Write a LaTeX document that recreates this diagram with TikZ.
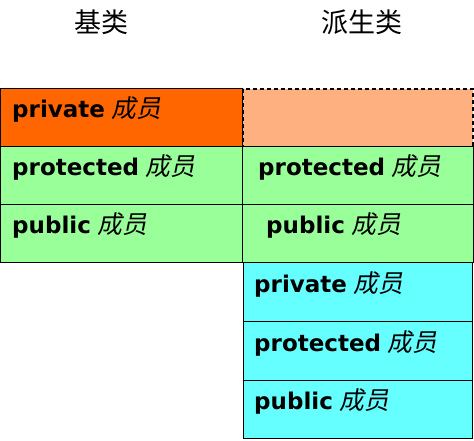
\documentclass[tikz,border=0pt]{standalone}
\usepackage{fontspec}
\setmainfont{DejaVu Sans}
\newfontfamily\cjk{Noto Sans CJK SC}
\newfontfamily\cjkit[FakeSlant=0.2,Scale=1.08]{Noto Sans CJK SC}
\usetikzlibrary{positioning}
\definecolor{orgA}{HTML}{FF6600}
\definecolor{orgB}{HTML}{FFB080}
\definecolor{grn}{HTML}{99FF99}
\definecolor{cyn}{HTML}{66FFFF}
\newcommand{\cy}{\hspace{0.3em}{\cjkit\mdseries 成员}}
\tikzset{
	cell/.style = {draw, line width = 1.2pt, inner sep = 0pt, anchor = north west, minimum height = 58pt},
	lab/.style = {anchor = base west, inner sep = 0pt, font = \fontsize{23}{26}\selectfont\bfseries},
	ttl/.style = {font = \cjk\fontsize{27}{30}\selectfont}
}

\begin{document}
\begin{tikzpicture}[x = 1pt, y = -1pt]%继承
	\useasboundingbox (0,0) rectangle (474,440);
	\node[ttl] (T1) at (101,22) {基类};
	\node[ttl] (T2) at (362,22) {派生类};
	% 基类
	\node[cell, dash pattern = on 4pt off 3pt, line width = 1.6pt, fill = orgB, minimum width = 230pt] (D0) at (242,88) {};
	\node[cell, fill = orgA, minimum width = 242pt] (B1) at (0,88) {};
	\node[cell, fill = grn, minimum width = 242pt] (B2) at (0,146) {};
	\node[cell, fill = grn, minimum width = 242pt] (B3) at (0,204) {};
	\node[lab, xshift = 12pt] (L1) at (B1.west) {private\cy};
	\node[lab, xshift = 12pt] (L2) at (B2.west) {protected\cy};
	\node[lab, xshift = 12pt] (L3) at (B3.west) {public\cy};
	% 派生类
	\node[cell, fill = grn, minimum width = 231pt] (D1) at (242,146) {};
	\node[cell, fill = grn, minimum width = 231pt] (D2) at (242,204) {};
	\node[cell, fill = cyn, minimum width = 229pt, minimum height = 59pt] (C1) at (243,262) {};
	\node[cell, fill = cyn, minimum width = 229pt, minimum height = 59pt] (C2) at (243,321) {};
	\node[cell, fill = cyn, minimum width = 229pt, minimum height = 58pt] (C3) at (243,380) {};
	\node[lab, xshift = 16pt] (R1) at (D1.west) {protected\cy};
	\node[lab, xshift = 24pt] (R2) at (D2.west) {public\cy};
	\node[lab, xshift = 11pt] (R3) at (C1.west) {private\cy};
	\node[lab, xshift = 11pt] (R4) at (C2.west) {protected\cy};
	\node[lab, xshift = 11pt] (R5) at (C3.west) {public\cy};
\end{tikzpicture}
\end{document}
